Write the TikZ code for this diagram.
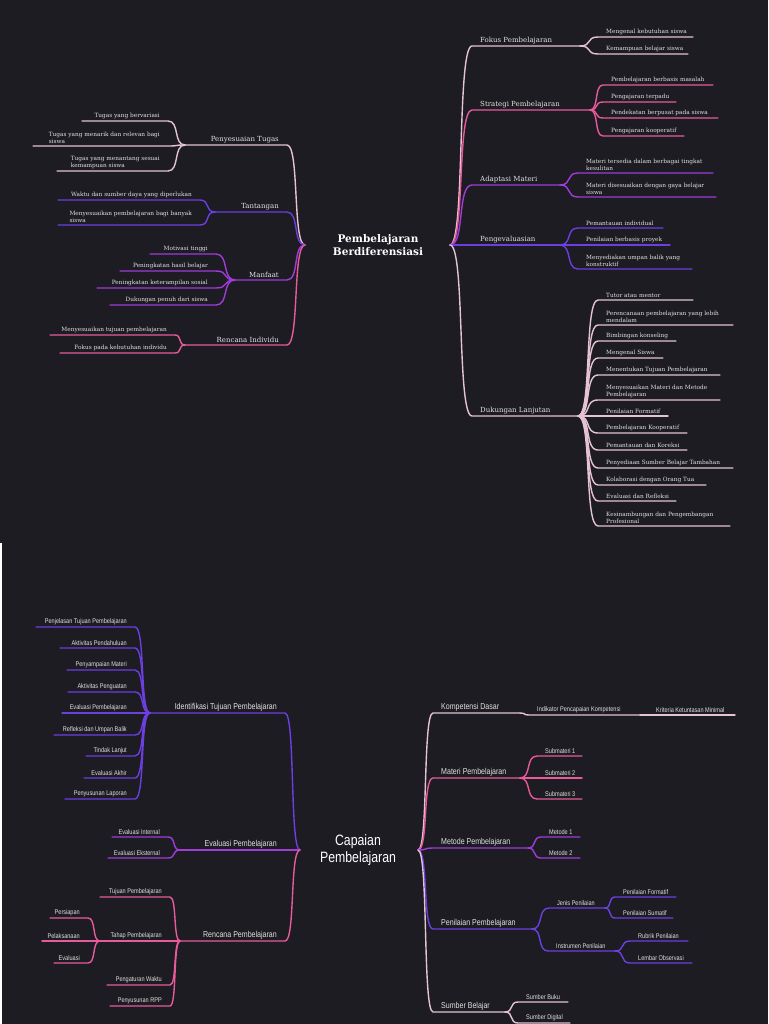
\documentclass[tikz,border=0pt]{standalone}
\usepackage{fontspec}
\usetikzlibrary{calc}
\newfontfamily\topf{DejaVu Serif}
\newfontfamily\botf{Liberation Sans}[FakeStretch=0.82]
\definecolor{bg}{HTML}{1C1C22}
\definecolor{txt}{HTML}{E2E2E2}
\definecolor{ca}{HTML}{E6C3D3}
\definecolor{cb}{HTML}{E85A9B}
\definecolor{cc}{HTML}{A03CD8}
\definecolor{cd}{HTML}{6B3FE0}
\def\fs{\topf\fontsize{5.8}{6.8}\selectfont}
\def\fm{\topf\fontsize{7}{8}\selectfont}
\newcommand\Rb[8][lbl]{%
 \coordinate (#4-s) at (#5,#7); \coordinate (#4-e) at (#6,#7);
 \draw[br,#2] (#3) .. controls ($(#3)!0.7!(#3 -| #4-s)$) and ($(#4-s)!0.7!(#4-s -| #3)$) .. (#4-s) -- (#4-e);
 \node[#1,anchor=south west] (#4) at ($(#4-s)+(7,-1)$) {#8};}
\newcommand\Lb[8][lbl]{%
 \coordinate (#4-s) at (#5,#7); \coordinate (#4-e) at (#6,#7);
 \draw[br,#2] (#3) .. controls ($(#3)!0.7!(#3 -| #4-s)$) and ($(#4-s)!0.7!(#4-s -| #3)$) .. (#4-s) -- (#4-e);
 \node[#1,anchor=south east] (#4) at ($(#4-s)+(-7,-1)$) {#8};}
\tikzset{br/.style={line width=1.4pt,line cap=round},
 lbl/.style={text=txt,inner sep=1pt,align=left,font=\fs},
 big/.style={text=txt,inner sep=1pt,align=left,font=\fm}}
\begin{document}
\begin{tikzpicture}[x=1pt,y={(0,-1pt)}]
\fill[bg] (0,0) rectangle (768,1024);
\useasboundingbox (0,0) rectangle (768,1024);
\fill[white] (0,543) rectangle (2,1024);
% ---------- TOP ----------
\node[text=white,align=center,font=\topf\bfseries\fontsize{10.5}{13}\selectfont] (root1) at (378,245) {Pembelajaran\\Berdiferensiasi};
\coordinate (rl) at (305,245); \coordinate (rr) at (450,245);
\Rb[big]{ca}{rr}{fok}{472}{580}{46}{Fokus Pembelajaran}
\Rb{ca}{fok-e}{f1}{598}{693}{37}{Mengenal kebutuhan siswa}
\Rb{ca}{fok-e}{f2}{598}{688}{54}{Kemampuan belajar siswa}
\Rb[big]{cb}{rr}{str}{472}{590}{110}{Strategi Pembelajaran}
\Rb{cb}{str-e}{s1}{603}{713}{85}{Pembelajaran berbasis masalah}
\Rb{cb}{str-e}{s2}{603}{676}{102}{Pengajaran terpadu}
\Rb{cb}{str-e}{s3}{603}{718}{118}{Pendekatan berpusat pada siswa}
\Rb{cb}{str-e}{s4}{603}{684}{136}{Pengajaran kooperatif}
\Rb[big]{cc}{rr}{ada}{472}{560}{185}{Adaptasi Materi}
\Rb{cc}{ada-e}{a1}{578}{713}{173}{Materi tersedia dalam berbagai tingkat\\kesulitan}
\Rb{cc}{ada-e}{a2}{578}{716}{197}{Materi disesuaikan dengan gaya belajar\\siswa}
\Rb[big]{cd}{rr}{eva}{472}{560}{245}{Pengevaluasian}
\Rb{cd}{eva-e}{e1}{578}{663}{228}{Pemantauan individual}
\Rb{cd}{eva-e}{e2}{578}{670}{245}{Penilaian berbasis proyek}
\Rb{cd}{eva-e}{e3}{578}{692}{269}{Menyediakan umpan balik yang\\konstruktif}
\Rb[big]{ca}{rr}{duk}{472}{578}{416}{Dukungan Lanjutan}
\Rb{ca}{duk-e}{d1}{598}{693}{300}{Tutor atau mentor}
\Rb{ca}{duk-e}{d2}{598}{733}{325}{Perencanaan pembelajaran yang lebih\\mendalam}
\Rb{ca}{duk-e}{d3}{598}{676}{341}{Bimbingan konseling}
\Rb{ca}{duk-e}{d4}{598}{663}{358}{Mengenal Siswa}
\Rb{ca}{duk-e}{d5}{598}{720}{375}{Menentukan Tujuan Pembelajaran}
\Rb{ca}{duk-e}{d6}{598}{720}{400}{Menyesuaikan Materi dan Metode\\Pembelajaran}
\Rb{ca}{duk-e}{d7}{598}{668}{416}{Penilaian Formatif}
\Rb{ca}{duk-e}{d8}{598}{687}{433}{Pembelajaran Kooperatif}
\Rb{ca}{duk-e}{d9}{598}{687}{450}{Pemantauan dan Koreksi}
\Rb{ca}{duk-e}{d10}{598}{733}{468}{Penyediaan Sumber Belajar Tambahan}
\Rb{ca}{duk-e}{d11}{598}{706}{485}{Kolaborasi dengan Orang Tua}
\Rb{ca}{duk-e}{d12}{598}{676}{501}{Evaluasi dan Refleksi}
\Rb{ca}{duk-e}{d13}{598}{730}{526}{Kesinambungan dan Pengembangan\\Profesional}
\Lb[big]{ca}{rl}{pen}{287}{185}{145}{Penyesuaian Tugas}
\Lb{ca}{pen-e}{p1}{168}{82}{121}{Tugas yang bervariasi}
\Lb{ca}{pen-e}{p2}{168}{33}{146}{Tugas yang menarik dan relevan bagi\\siswa}
\Lb{ca}{pen-e}{p3}{168}{57}{171}{Tugas yang menantang sesuai\\kemampuan siswa}
\Lb[big]{cd}{rl}{tan}{287}{215}{212}{Tantangan}
\Lb{cd}{tan-e}{t1}{200}{58}{200}{Waktu dan sumber daya yang diperlukan}
\Lb{cd}{tan-e}{t2}{200}{58}{225}{Menyesuaikan pembelajaran bagi banyak\\siswa}
\Lb[big]{cc}{rl}{man}{287}{235}{280}{Manfaat}
\Lb{cc}{man-e}{m1}{216}{150}{254}{Motivasi tinggi}
\Lb{cc}{man-e}{m2}{216}{120}{271}{Peningkatan hasil belajar}
\Lb{cc}{man-e}{m3}{216}{97}{288}{Peningkatan keterampilan sosial}
\Lb{cc}{man-e}{m4}{216}{110}{305}{Dukungan penuh dari siswa}
\Lb[big]{cb}{rl}{ren}{287}{185}{345}{Rencana Individu}
\Lb{cb}{ren-e}{r1}{175}{50}{335}{Menyesuaikan tujuan pembelajaran}
\Lb{cb}{ren-e}{r2}{175}{60}{353}{Fokus pada kebutuhan individu}
% ---------- BOTTOM ----------
\def\fs{\botf\fontsize{6.8}{8}\selectfont}
\def\fm{\botf\fontsize{8.6}{10}\selectfont}
\node[text=white,align=center,font=\botf\fontsize{15}{17}\selectfont] (root2) at (358,850) {Capaian\\Pembelajaran};
\coordinate (bl) at (300,850); \coordinate (brr) at (418,850);
\Lb[big]{cd}{bl}{idt}{285}{150}{713}{Identifikasi Tujuan Pembelajaran}
\Lb{cd}{idt-e}{i1}{135}{36}{627}{Penjelasan Tujuan Pembelajaran}
\Lb{cd}{idt-e}{i2}{135}{60}{648}{Aktivitas Pendahuluan}
\Lb{cd}{idt-e}{i3}{135}{67}{670}{Penyampaian Materi}
\Lb{cd}{idt-e}{i4}{135}{68}{692}{Aktivitas Penguatan}
\Lb{cd}{idt-e}{i5}{135}{62}{713}{Evaluasi Pembelajaran}
\Lb{cd}{idt-e}{i6}{135}{54}{735}{Refleksi dan Umpan Balik}
\Lb{cd}{idt-e}{i7}{135}{86}{756}{Tindak Lanjut}
\Lb{cd}{idt-e}{i8}{135}{84}{778}{Evaluasi Akhir}
\Lb{cd}{idt-e}{i9}{135}{65}{799}{Penyusunan Laporan}
\Lb[big]{cc}{bl}{evp}{285}{180}{850}{Evaluasi Pembelajaran}
\Lb{cc}{evp-e}{v1}{168}{112}{837}{Evaluasi Internal}
\Lb{cc}{evp-e}{v2}{168}{108}{858}{Evaluasi Eksternal}
\Lb[big]{cb}{bl}{rp}{285}{180}{941}{Rencana Pembelajaran}
\Lb{cb}{rp-e}{q1}{170}{100}{897}{Tujuan Pembelajaran}
\Lb{cb}{rp-e}{q2}{170}{100}{941}{Tahap Pembelajaran}
\Lb{cb}{q2-e}{q21}{88}{50}{918}{Persiapan}
\Lb{cb}{q2-e}{q22}{88}{42}{941}{Pelaksanaan}
\Lb{cb}{q2-e}{q23}{88}{54}{963}{Evaluasi}
\Lb{cb}{rp-e}{q3}{170}{107}{985}{Pengaturan Waktu}
\Lb{cb}{rp-e}{q4}{170}{110}{1006}{Penyusunan RPP}
\Rb[big]{ca}{brr}{kd}{433}{520}{713}{Kompetensi Dasar}
\Rb{ca}{kd-e}{k1}{529}{640}{715}{Indikator Pencapaian Kompetensi}
\Rb{ca}{k1-e}{k2}{648}{735}{715}{Kriteria Ketuntasan Minimal}
\Rb[big]{cb}{brr}{mp}{433}{520}{778}{Materi Pembelajaran}
\Rb{cb}{mp-e}{sm1}{537}{582}{756}{Submateri 1}
\Rb{cb}{mp-e}{sm2}{537}{582}{778}{Submateri 2}
\Rb{cb}{mp-e}{sm3}{537}{582}{799}{Submateri 3}
\Rb[big]{cc}{brr}{mt}{433}{528}{848}{Metode Pembelajaran}
\Rb{cc}{mt-e}{mt1}{541}{580}{837}{Metode 1}
\Rb{cc}{mt-e}{mt2}{541}{580}{858}{Metode 2}
\Rb[big]{cd}{brr}{pp}{433}{532}{929}{Penilaian Pembelajaran}
\Rb{cd}{pp-e}{jp}{549}{605}{908}{Jenis Penilaian}
\Rb{cd}{jp-e}{jp1}{615}{676}{897}{Penilaian Formatif}
\Rb{cd}{jp-e}{jp2}{615}{673}{918}{Penilaian Sumatif}
\Rb{cd}{pp-e}{ip}{548}{615}{951}{Instrumen Penilaian}
\Rb{cd}{ip-e}{ip1}{630}{688}{941}{Rubrik Penilaian}
\Rb{cd}{ip-e}{ip2}{630}{692}{963}{Lembar Observasi}
\Rb[big]{ca}{brr}{sb}{433}{505}{1012}{Sumber Belajar}
\Rb{ca}{sb-e}{sb1}{518}{568}{1002}{Sumber Buku}
\Rb{ca}{sb-e}{sb2}{518}{570}{1023}{Sumber Digital}
\end{tikzpicture}
\end{document}
